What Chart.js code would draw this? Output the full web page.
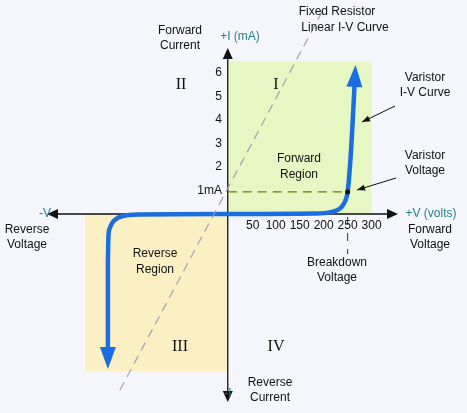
<!DOCTYPE html><html><head><style>html,body{margin:0;padding:0;background:#f4f6fc}#w{width:467px;height:413px}canvas{display:block}</style>
<script src="https://cdn.jsdelivr.net/npm/chart.js@4"></script></head><body><div id="w"><canvas id="c" width="467" height="413" style="width:467px;height:413px"></canvas></div><script>
const xTicks=[50,100,150,200,250,300];
const yTicks=[1,2,3,4,5,6];
const yTickLabels=['1mA','2','3','4','5','6'];
const varistorV=[-250,-250,-249,-246,-240,-228,-210,-180,0,180,215,235,245,250,254,258,262,265];
const varistorI=[-6.0,-2.0,-1.0,-0.6,-0.35,-0.15,-0.05,-0.02,0,0.02,0.08,0.25,0.55,0.94,1.8,3.0,4.5,5.75];
const resistorV=[-225,202];
const resistorI=[-7.5,8.8];
const varistorVoltage=250, varistorCurrent=0.94;
const font='12px Arial, "Liberation Sans", sans-serif';
const XMIN=-475,XMAX=498.96,YMIN=-8.468,YMAX=9.106;
const P={id:'deco',beforeDatasetsDraw(ch){const c=ch.ctx,x=ch.scales.x,y=ch.scales.y;c.save();
 c.fillStyle='#e6f7c4';c.fillRect(x.getPixelForValue(0),y.getPixelForValue(6.5),x.getPixelForValue(300)-x.getPixelForValue(0),y.getPixelForValue(0)-y.getPixelForValue(6.5));
 c.fillStyle='#fbefc4';c.fillRect(x.getPixelForValue(-298),y.getPixelForValue(0),x.getPixelForValue(0)-x.getPixelForValue(-298),y.getPixelForValue(-6.7)-y.getPixelForValue(0));
 c.strokeStyle='#111';c.lineWidth=1.3;const ox=x.getPixelForValue(0),oy=y.getPixelForValue(0);
 c.beginPath();c.moveTo(52,oy);c.lineTo(393,oy);c.moveTo(ox,52);c.lineTo(ox,398);c.stroke();
 c.fillStyle='#111';const tri=(a,b,d)=>{c.beginPath();if(d=='r'){c.moveTo(a,b);c.lineTo(a-11,b-5);c.lineTo(a-11,b+5);}else if(d=='l'){c.moveTo(a,b);c.lineTo(a+11,b-5);c.lineTo(a+11,b+5);}else if(d=='u'){c.moveTo(a,b);c.lineTo(a-5,b+11);c.lineTo(a+5,b+11);}else{c.moveTo(a,b);c.lineTo(a-5,b-11);c.lineTo(a+5,b-11);}c.fill();};
 tri(398,oy,'r');tri(47,oy,'l');tri(ox,48,'u');tri(ox,402,'d');
 const vx=x.getPixelForValue(varistorVoltage),vy=y.getPixelForValue(varistorCurrent);
 c.strokeStyle='#6b7a10';c.setLineDash([9,6]);c.lineWidth=1.3;c.beginPath();c.moveTo(ox,vy);c.lineTo(vx,vy);c.stroke();
 c.strokeStyle='#333';c.setLineDash([8,8]);c.lineWidth=1;c.beginPath();c.moveTo(vx,oy+3);c.lineTo(vx,oy+40);c.stroke();c.setLineDash([]);
 c.restore();},
afterDatasetsDraw(ch){const c=ch.ctx,x=ch.scales.x,y=ch.scales.y;c.save();
 const n=varistorV.length;c.fillStyle='#1a6ee0';
 const head=(i1,i2)=>{const ax=x.getPixelForValue(varistorV[i1]),ay=y.getPixelForValue(varistorI[i1]),bx=x.getPixelForValue(varistorV[i2]),by=y.getPixelForValue(varistorI[i2]);const an=Math.atan2(ay-by,ax-bx);const L=22,W=8;
  const tx=ax+Math.cos(an)*14,ty=ay+Math.sin(an)*14;c.beginPath();c.moveTo(tx,ty);c.lineTo(tx-L*Math.cos(an)+W*Math.sin(an),ty-L*Math.sin(an)-W*Math.cos(an));c.lineTo(tx-L*Math.cos(an)-W*Math.sin(an),ty-L*Math.sin(an)+W*Math.cos(an));c.fill();};
 head(0,1);head(n-1,n-2);
 const vx=x.getPixelForValue(varistorVoltage),vy=y.getPixelForValue(varistorCurrent);
 c.fillStyle='#111';c.beginPath();c.arc(vx,vy,2.5,0,7);c.fill();
 c.strokeStyle='#111';c.lineWidth=1;const arr=(x1,y1,x2,y2)=>{c.beginPath();c.moveTo(x1,y1);c.lineTo(x2,y2);c.stroke();const a=Math.atan2(y2-y1,x2-x1);c.beginPath();c.moveTo(x2,y2);c.lineTo(x2-8*Math.cos(a)+3*Math.sin(a),y2-8*Math.sin(a)-3*Math.cos(a));c.lineTo(x2-8*Math.cos(a)-3*Math.sin(a),y2-8*Math.sin(a)+3*Math.cos(a));c.fill();};
 arr(395,106,362,122);arr(396,178,357,190);
 c.font=font;c.textAlign='center';c.textBaseline='middle';
 xTicks.forEach(t=>c.fillText(String(t),x.getPixelForValue(t)+(t==50?1:0),226));
 c.textAlign='right';yTicks.forEach((t,i)=>c.fillText(yTickLabels[i],222,y.getPixelForValue(t)));
 const T=(s,a,b,col,al,f)=>{c.fillStyle=col||'#111';c.textAlign=al||'center';c.font=f||font;c.fillText(s,a,b);};
 const tl='#2a7f8f';
 T('+I (mA)',240,37,tl);T('-V',45,214,tl);T('+V (volts)',431,214,tl);T('-I',228,394,tl);
 T('Forward',180,31);T('Current',180,46);T('Fixed Resistor',337,12);T('Linear I-V Curve',345,28);
 T('Varistor',425,78);T('I-V Curve',425,93);T('Varistor',425,156);T('Voltage',425,171);
 T('Forward',299,159);T('Region',299,175);T('Reverse',155,254);T('Region',155,270);
 T('Reverse',27,230);T('Voltage',27,245);T('Forward',430,230);T('Voltage',430,245);
 T('Breakdown',337,263);T('Voltage',337,278);T('Reverse',270,383);T('Current',270,398);
 const rf='16px "Liberation Serif", "DejaVu Serif", serif';
 T('II',181,85,'#111','center',rf);T('I',276,85,'#111','center',rf);T('III',180,347,'#111','center',rf);T('IV',276,347,'#111','center',rf);
 c.restore();}};
new Chart(document.getElementById('c'),{type:'scatter',data:{datasets:[
 {data:resistorV.map((v,i)=>({x:v,y:resistorI[i]})),showLine:true,borderColor:'#a0a0b0',borderWidth:1.2,borderDash:[9,6],pointRadius:0},
 {data:varistorV.map((v,i)=>({x:v,y:varistorI[i]})),showLine:true,borderColor:'#1a6ee0',borderWidth:4.5,pointRadius:0,cubicInterpolationMode:'monotone'}]},
 options:{responsive:false,animation:false,maintainAspectRatio:false,devicePixelRatio:1,layout:{padding:0},plugins:{legend:{display:false},tooltip:{enabled:false}},
 scales:{x:{type:'linear',display:false,min:XMIN,max:XMAX},y:{type:'linear',display:false,min:YMIN,max:YMAX}}},plugins:[P]});
</script></body></html>
